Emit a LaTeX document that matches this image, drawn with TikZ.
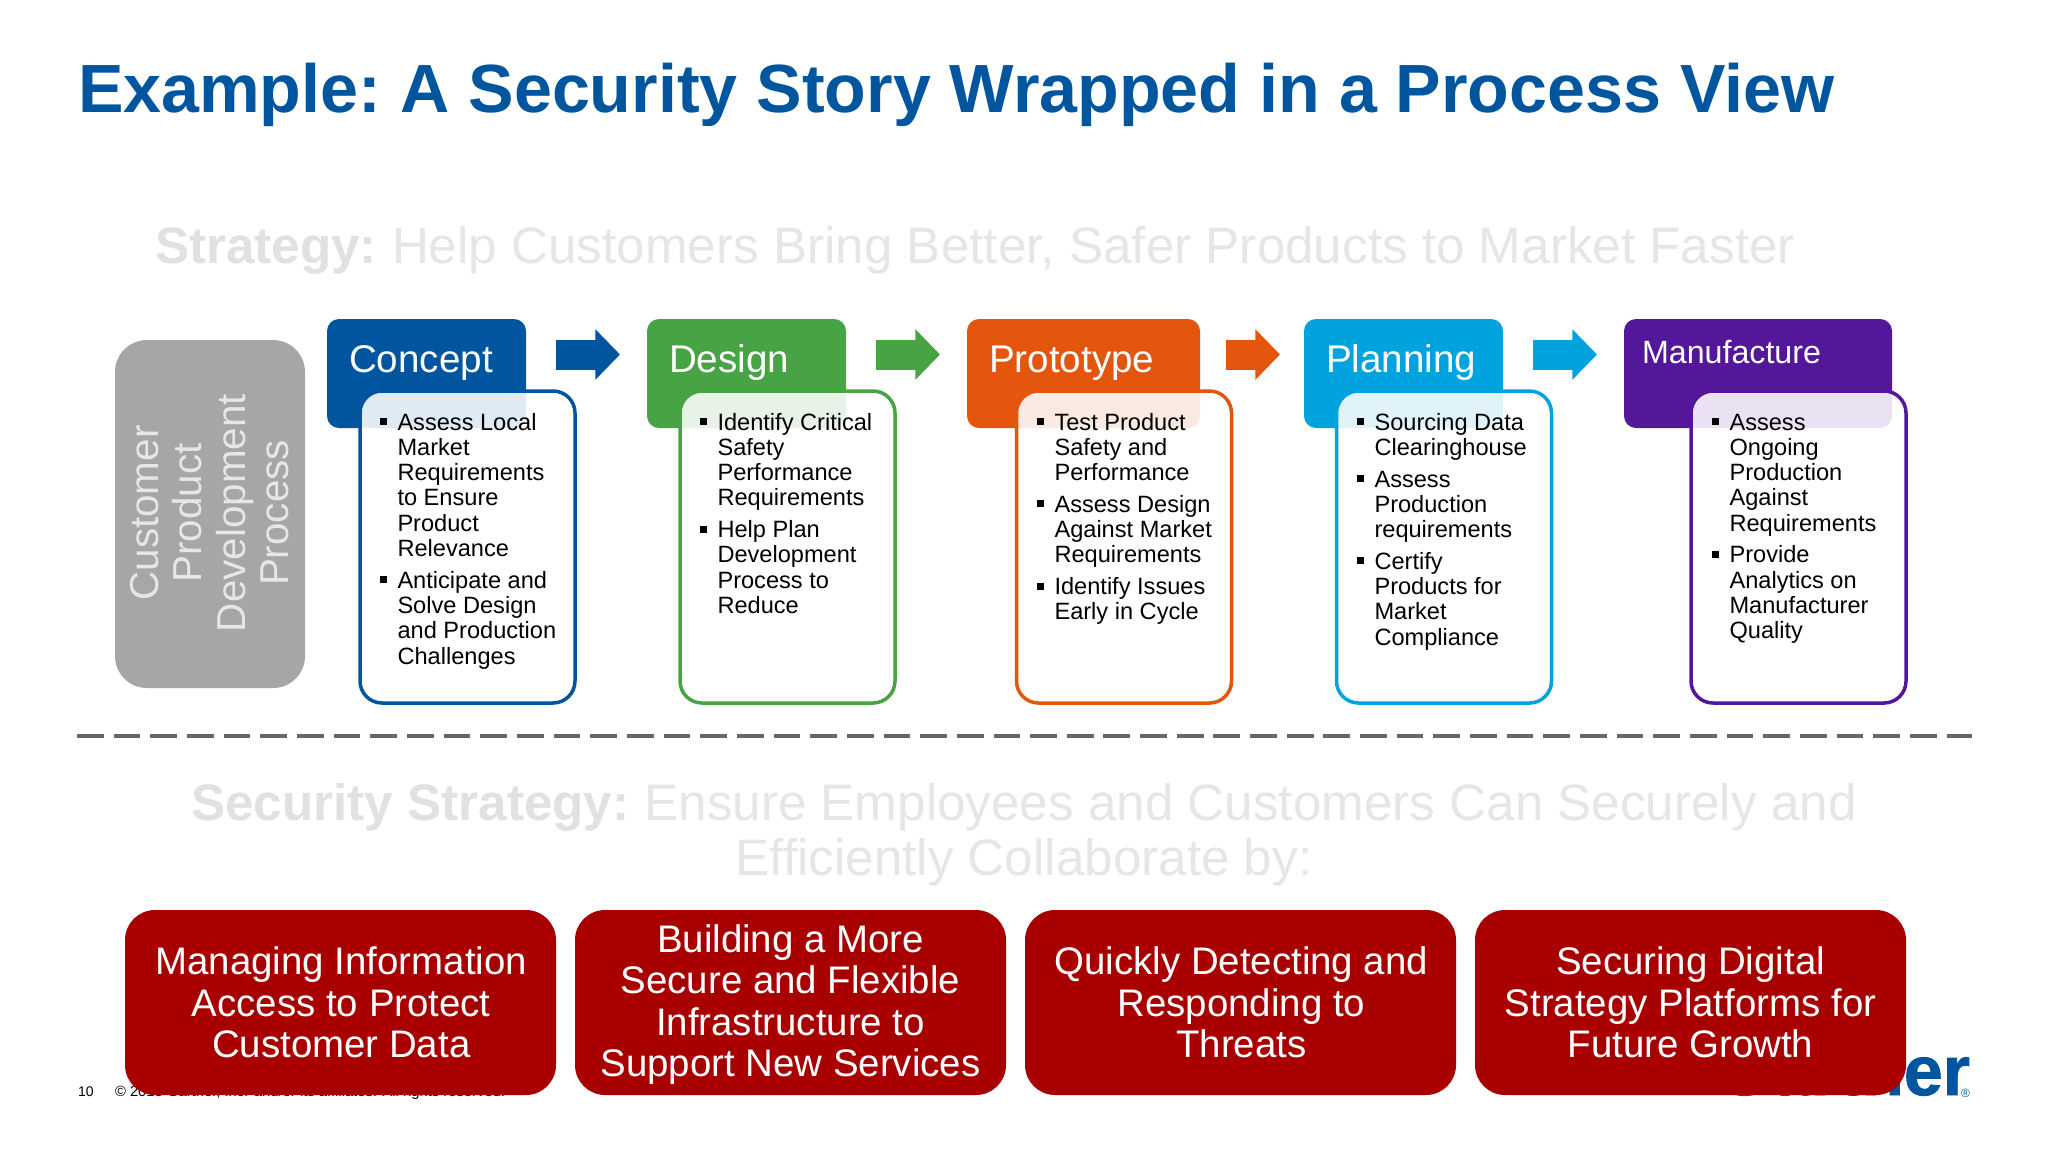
\documentclass[tikz,border=0pt]{standalone}
\usepackage{fontspec}
\setmainfont{Liberation Sans}
\newfontfamily\logofont[FakeBold=1.2]{Liberation Sans Bold}
\usetikzlibrary{arrows.meta}
\definecolor{cblue}{HTML}{00559F}
\definecolor{cgreen}{HTML}{47A343}
\definecolor{corange}{HTML}{E4560E}
\definecolor{ccyan}{HTML}{00A3DE}
\definecolor{cpurple}{HTML}{541799}
\definecolor{cred}{HTML}{A80000}
\definecolor{cgrey}{HTML}{A7A5A6}
\definecolor{cfade}{HTML}{E6E5E7}
\definecolor{cfadeb}{HTML}{E1E0E2}
\definecolor{cdash}{HTML}{666666}
\newcommand\bl{\leavevmode\rule{0pt}{10pt}\llap{\rule[2.5pt]{3.5pt}{3.5pt}\hspace{5.2pt}}}
\tikzset{
  every node/.style={inner sep=0pt,outer sep=0pt},
  hdr/.style={fill=#1,rounded corners=6pt,anchor=north west,minimum height=54.5pt,minimum width=99.5pt},
  hdrtext/.style={text=white,anchor=base west,font=\fontsize{19.3}{21}\selectfont},
  bodybox/.style={draw=#1,line width=1.75pt,fill=white,fill opacity=0.88,draw opacity=1,rounded corners=11pt,anchor=north west,minimum height=156pt,minimum width=107.5pt},
  bodytext/.style={anchor=north west,align=left,text=black,font=\fontsize{11.8}{12.65}\selectfont},
  blockarrow/.style={draw=#1,line width=15pt,-{Triangle[length=12.3pt,width=24.5pt,fill=#1]}},
  redbox/.style={fill=cred,rounded corners=15pt,anchor=north west,minimum width=215.5pt,minimum height=92.5pt},
  redtext/.style={text=white,align=center,font=\fontsize{19.2}{20.75}\selectfont},
  fadeline/.style={anchor=base,text=cfade,font=\fontsize{25.6}{27}\selectfont},
}
\begin{document}
\begin{tikzpicture}[x=0.5pt,y=-0.5pt]
\useasboundingbox[fill=white] (0,0) rectangle (2048,1152);
% title
\node[anchor=base west,text=cblue,font=\fontsize{34.1}{36}\bfseries\selectfont] (title) at (78,112) {Example:\kern-3pt{} A Security Story Wrapped in a Process View};
\node[fadeline] (strategy) at (975,263) {\textcolor{cfadeb}{\bfseries Strategy:}\kern-2pt{} Help Customers Bring Better, Safer Products to Market Faster};
% footer and logo, under the red boxes
\node[anchor=base west,font=\fontsize{7}{8}\selectfont,text=black] (pageno) at (78,1096) {10};
\node[anchor=base west,font=\fontsize{7.4}{8}\selectfont,text=black] (copyright) at (115,1096) {© 2018 Gartner, Inc. and/or its affiliates. All rights reserved.};
\node[anchor=base east,font=\fontsize{35}{36}\logofont\selectfont,text=cblue] (logo) at (1970,1095) {Gartner};
\node[anchor=base west,font=\fontsize{6}{7}\selectfont,text=cblue] (logoR) at (1961,1097) {®};
% left box
\node[fill=cgrey,rounded corners=16pt,anchor=north west,minimum width=95pt,minimum height=174pt] (cust) at (115,340) {};
\node[rotate=90,align=center,text=cfade,font=\fontsize{20.2}{21.8}\selectfont] (custt) at (209.5,513) {Customer\\Product\\Development\\Process};
% Concept
\node[hdr=cblue] (h1) at (327,319) {};
\node[hdrtext] (h1t) at (349,372) {Concept};
\node[bodybox=cblue] (b1) at (360,391) {};
\node[bodytext] (b1t) at (397.5,410) {\bl Assess Local\\Market\\Requirements\\to Ensure\\Product\\Relevance\\[3.2pt]\bl Anticipate and\\Solve Design\\and Production\\Challenges};
% Design
\node[hdr=cgreen] (h2) at (647,319) {};
\node[hdrtext] (h2t) at (669,372) {Design};
\node[bodybox=cgreen] (b2) at (680,391) {};
\node[bodytext] (b2t) at (717.5,410) {\bl Identify Critical\\Safety\\Performance\\Requirements\\[3.2pt]\bl Help Plan\\Development\\Process to\\Reduce};
% Prototype
\node[hdr=corange,minimum width=116.5pt] (h3) at (967,319) {};
\node[hdrtext] (h3t) at (989,372) {Prototype};
\node[bodybox=corange] (b3) at (1016.5,391) {};
\node[bodytext] (b3t) at (1054.5,410) {\bl Test Product\\Safety and\\Performance\\[3.2pt]\bl Assess Design\\Against Market\\Requirements\\[3.2pt]\bl Identify Issues\\Early in Cycle};
% Planning
\node[hdr=ccyan] (h4) at (1304,319) {};
\node[hdrtext] (h4t) at (1326,372) {Planning};
\node[bodybox=ccyan] (b4) at (1336.5,391) {};
\node[bodytext] (b4t) at (1374.5,410) {\bl Sourcing Data\\Clearinghouse\\[3.2pt]\bl Assess\\Production\\requirements\\[3.2pt]\bl Certify\\Products for\\Market\\Compliance};
% Manufacture
\node[hdr=cpurple,minimum width=134pt] (h5) at (1624,319) {};
\node[hdrtext,font=\fontsize{16.1}{18}\selectfont] (h5t) at (1642,363) {Manufacture};
\node[bodybox=cpurple] (b5) at (1691,391) {};
\node[bodytext] (b5t) at (1729.5,410) {\bl Assess\\Ongoing\\Production\\Against\\Requirements\\[3.2pt]\bl Provide\\Analytics on\\Manufacturer\\Quality};
% arrows
\coordinate (a1s) at (556,354.5); \coordinate (a1e) at (620,354.5);
\coordinate (a2s) at (876,354.5); \coordinate (a2e) at (940,354.5);
\coordinate (a3s) at (1226,354.5); \coordinate (a3e) at (1280,354.5);
\coordinate (a4s) at (1533,354.5); \coordinate (a4e) at (1597,354.5);
\draw[blockarrow=cblue] (a1s) -- (a1e);
\draw[blockarrow=cgreen] (a2s) -- (a2e);
\draw[blockarrow=corange] (a3s) -- (a3e);
\draw[blockarrow=ccyan] (a4s) -- (a4e);
% divider
\coordinate (dl) at (77,736); \coordinate (dr) at (1972,736);
\draw[cdash,line width=2pt,dash pattern=on 13.35pt off 4.98pt] (dl) -- (dr);
% security strategy
\node[fadeline] (sec1) at (1024,820) {\textcolor{cfadeb}{\bfseries Security Strategy:}\kern-2pt{} Ensure Employees and Customers Can Securely and};
\node[fadeline] (sec2) at (1024,875) {Efficiently Collaborate by:};
% red boxes
\node[redbox] (r1) at (125,910) {};
\node[redbox] (r2) at (575,910) {};
\node[redbox] (r3) at (1025,910) {};
\node[redbox] (r4) at (1475,910) {};
\node[redtext,xshift=0.4pt] at (r1) (r1t) {Managing Information\\Access to Protect\\Customer Data};
\node[redtext,yshift=-1pt] at (r2) (r2t) {Building a More\\Secure and Flexible\\Infrastructure to\\Support New Services};
\node[redtext,xshift=0.4pt] at (r3) (r3t) {Quickly Detecting and\\Responding to\\Threats};
\node[redtext] at (r4) (r4t) {Securing Digital\\Strategy Platforms for\\Future Growth};
\end{tikzpicture}
\end{document}
